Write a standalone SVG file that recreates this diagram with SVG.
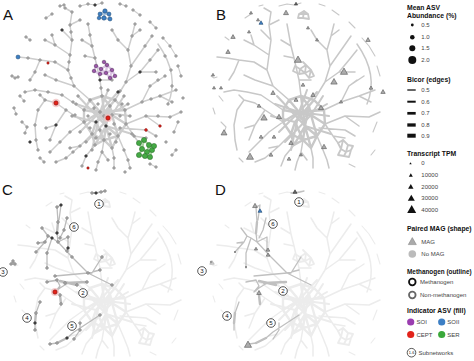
<svg xmlns="http://www.w3.org/2000/svg" xmlns:xlink="http://www.w3.org/1999/xlink" width="474" height="361" viewBox="0 0 474 361">
<style>
text{font-family:"Liberation Sans",Arial,sans-serif}
.pl{font-size:15px;fill:#111}
.lt{font-size:6.8px;font-weight:bold;fill:#111}
.ll{font-size:6px;fill:#444}
.n{fill:#b8b8b8;stroke:#666;stroke-width:0.45}
.m{fill:#555;stroke:#111;stroke-width:0.5}
.r{fill:#e2231a;stroke:#7a1010;stroke-width:0.5}
.h{fill:#f3c2c2;opacity:0.8}
.p{fill:#9b55a8;stroke:#4a2a55;stroke-width:0.5}
.g{fill:#44a944;stroke:#2a6a2a;stroke-width:0.5}
.b{fill:#3d7fc4;stroke:#234a70;stroke-width:0.5}
.t{fill:#acacac;stroke:#555}
.td{fill:#666;stroke:#333}
.tb{fill:#3d7fc4;stroke:#234a70}
.sn{fill:#bdbdbd;stroke:#555;stroke-width:0.5}
.lab circle{fill:#fff;stroke:#111;stroke-width:0.7}
.lab text{font-size:6.2px;fill:#111;text-anchor:middle}
</style>
<defs>
<path id="tri" d="M0,-1.1L1,0.65L-1,0.65Z" stroke-width="0.6" vector-effect="non-scaling-stroke"/>
<g id="net" fill="none" stroke-linecap="round" stroke-linejoin="round">
<path stroke-width="2.4" d="M90,100L102,96L115,100L125,110L126,124L118,136L104,140L92,134L84,122L84,110Z M90,100L100,112L112,115L126,124 M102,96L106,126L104,140 M115,100L96,122L92,134 M125,110L100,112L84,122 M84,110L112,115L118,136 M110,106L96,122 M110,106L106,126 M100,112L106,126L118,136 M96,122L104,140 M112,115L110,106L102,96 M92,134L95,145L104,140L112,148L118,136 M95,145L106,126L112,148"/>
<path stroke-width="2" d="M76,104L100,112L130,116 M80,132L100,112L118,92 M92,150L100,112L108,90 M72,116L96,122L128,104 M78,96L106,126L132,134 M86,142L112,115L124,96"/>
<path stroke-width="1.5" d="M90,100L74,86L68,70L70,55L72,40L70,25L72,12 M70,55L55,45L45,40 M72,40L62,30 M68,70L55,62L40,60L28,58L18,57 M40,60L35,72L30,80 M74,86L56,80L45,75 M72,12L65,8 M70,25L80,20 M55,45L52,35 M102,96L100,80L95,58L92,46L90,35L88,24 M92,46L82,40 M95,58L85,56 M100,80L112,80 M115,100L126,82L131,66L128,50L132,36L135,24 M126,82L140,72L150,60L158,50 M131,66L145,46L152,36 M128,50L118,40L112,30 M140,72L156,72 M132,36L140,30 M125,110L142,102L160,96L176,90 M142,102L150,86L165,76 M126,124L146,116L170,117L181,112 M146,116L160,126 M160,96L172,102 M150,86L158,80 M126,124L134,136L139,143 M118,136L124,150L128,160L130,168 M120,128L146,130L156,136 M134,136L146,138 M104,140L102,152L98,162L96,170 M92,134L80,146L66,158L56,162 M95,145L86,156L82,166 M112,148L114,158L114,168 M102,152L108,160 M80,146L70,148 M84,122L66,110L56,103L45,100L38,110L35,125L36,140L38,150 M84,110L62,95L48,92L35,90L25,92 M66,110L56,125L50,140 M84,122L70,132L60,142L50,152 M45,100L40,95 M56,125L46,128 M158,44Q180,75 168,104"/>
<path stroke-width="1.1" d="M80,6L88,4L95,5L102,3 M133,10L140,15 M150,22L156,28 M163,38L170,46L176,56 M178,66L181,76 M178,122L174,132 M26,37L30,40 M12,76L15,78L18,77 M20,96L24,101 M22,122L27,127L25,133 M46,18L52,14 M150,164L156,167 M176,150L172,155 M40,158L44,162 M14,108L16,114 M120,4L126,6 M60,6L64,5"/>
<path stroke-width="1.8" d="M96,66L101,69L107,65L112,70L115,76L110,78L106,73L100,74L94,71Z M101,69L106,73L112,70 M104,62L107,65 M100,74L101,69 M107,65L106,73 M110,78L112,70 M139,143L144,140L149,145L154,146L152,150L150,157L145,156L139,155L142,149Z M142,149L147,152L149,145 M147,152L152,150 M144,140L142,149 M145,156L147,152 M100,14L105,11L109,14L110,19L104,18L99,18Z M105,11L104,18 M100,14L109,14"/>
</g>
<g id="sublines" fill="none" stroke-linecap="round" stroke-linejoin="round">
<path stroke-width="1.3" d="M92,193L96,193L101,192L105,191 M61,205L57,207L58,222 M57,233L58,242 M61,205L59,220 M67,218L64,230L60,238 M42,228L48,236L52,238L58,242 M48,236L45,242L38,243 M45,242L36,252 M58,242L68,237L68,248L67,251 M52,238L47,253L47,268 M58,242L72,257L88,273L112,285 M102,257L92,273L88,273 M47,282L57,280 M55,276L88,273 M88,273L100,270 M57,280L60,286L55,292L60,288L68,283 M11,264L13,261L15,264Z M40,302L36,313 M35,323L35,330 M100,315L74,332L67,338 M57,343L50,344 M80,323L80,330L74,339"/>
<path stroke-width="2.4" d="M65,283L87,282 M60,281L77,285 M60,295L61,304 M36,313L35,323 M67,338L57,343 M58,222L57,233"/>
</g>
</defs>

<g id="panel-letters">
<text class="pl" x="3" y="20">A</text>
<text class="pl" x="216" y="20">B</text>
<text class="pl" x="2" y="195">C</text>
<text class="pl" x="215" y="195">D</text>
</g>

<!-- Panel A -->
<g id="panelA">
<g id="connectors-A"><use xlink:href="#net" href="#net" stroke="#cdcdcd"/>
<path fill="none" stroke="#dcc3e6" stroke-width="2" stroke-linejoin="round" d="M96,66L101,69L107,65L112,70L115,76L110,78L106,73L100,74L94,71Z M101,69L106,73L112,70 M104,62L107,65 M100,74L101,69 M107,65L106,73 M110,78L112,70"/>
<path fill="none" stroke="#a9d6a2" stroke-width="2" stroke-linejoin="round" d="M139,143L144,140L149,145L154,146L152,150L150,157L145,156L139,155L142,149Z M142,149L147,152L149,145 M147,152L152,150 M144,140L142,149 M145,156L147,152"/>
<path fill="none" stroke="#a8c4e0" stroke-width="1.6" d="M100,14L105,11L109,14L110,19L104,18L99,18Z M105,11L104,18 M100,14L109,14"/>
</g>
<g id="nodes-A">
<g class="n">
<circle cx="90" cy="100" r="1.3"/><circle cx="102" cy="96" r="1.3"/><circle cx="115" cy="100" r="1.3"/><circle cx="125" cy="110" r="1.3"/><circle cx="126" cy="124" r="1.3"/><circle cx="118" cy="136" r="1.3"/><circle cx="104" cy="140" r="1.3"/><circle cx="92" cy="134" r="1.3"/><circle cx="84" cy="122" r="1.3"/><circle cx="84" cy="110" r="1.3"/><circle cx="100" cy="112" r="1.3"/><circle cx="112" cy="115" r="1.3"/><circle cx="110" cy="106" r="1.3"/><circle cx="95" cy="145" r="1.3"/><circle cx="112" cy="148" r="1.3"/><circle cx="120" cy="128" r="1.3"/>
<circle cx="76" cy="104" r="1.3"/><circle cx="130" cy="116" r="1.3"/><circle cx="80" cy="132" r="1.3"/><circle cx="92" cy="150" r="1.3"/><circle cx="108" cy="90" r="1.3"/><circle cx="72" cy="116" r="1.3"/><circle cx="128" cy="104" r="1.3"/><circle cx="78" cy="96" r="1.3"/><circle cx="132" cy="134" r="1.3"/><circle cx="86" cy="142" r="1.3"/><circle cx="124" cy="96" r="1.3"/>
<circle cx="94" cy="108" r="1.3"/><circle cx="100" cy="130" r="1.3"/><circle cx="114" cy="124" r="1.3"/><circle cx="88" cy="116" r="1.3"/><circle cx="120" cy="116" r="1.3"/><circle cx="98" cy="104" r="1.3"/><circle cx="110" cy="134" r="1.3"/><circle cx="90" cy="128" r="1.3"/><circle cx="104" cy="116" r="1.3"/><circle cx="96" cy="138" r="1.3"/><circle cx="116" cy="142" r="1.3"/><circle cx="122" cy="104" r="1.3"/>
<circle cx="74" cy="86" r="1.3"/><circle cx="68" cy="70" r="1.3"/><circle cx="70" cy="55" r="1.3"/><circle cx="72" cy="40" r="1.3"/><circle cx="70" cy="25" r="1.3"/><circle cx="72" cy="12" r="1.3"/><circle cx="55" cy="45" r="1.3"/><circle cx="45" cy="40" r="1.3"/><circle cx="55" cy="62" r="1.3"/><circle cx="40" cy="60" r="1.3"/><circle cx="28" cy="58" r="1.3"/><circle cx="35" cy="72" r="1.3"/><circle cx="30" cy="80" r="1.3"/><circle cx="56" cy="80" r="1.3"/><circle cx="45" cy="75" r="1.3"/><circle cx="65" cy="8" r="1.3"/><circle cx="80" cy="20" r="1.3"/><circle cx="52" cy="35" r="1.3"/><circle cx="71" cy="78" r="1.3"/><circle cx="69" cy="62" r="1.3"/><circle cx="71" cy="32" r="1.3"/>
<circle cx="95" cy="58" r="1.3"/><circle cx="92" cy="46" r="1.3"/><circle cx="90" cy="35" r="1.3"/><circle cx="88" cy="24" r="1.3"/><circle cx="82" cy="40" r="1.3"/><circle cx="85" cy="56" r="1.3"/><circle cx="112" cy="80" r="1.3"/><circle cx="101" cy="88" r="1.3"/>
<circle cx="126" cy="82" r="1.3"/><circle cx="131" cy="66" r="1.3"/><circle cx="128" cy="50" r="1.3"/><circle cx="132" cy="36" r="1.3"/><circle cx="135" cy="24" r="1.3"/><circle cx="150" cy="60" r="1.3"/><circle cx="158" cy="50" r="1.3"/><circle cx="145" cy="46" r="1.3"/><circle cx="152" cy="36" r="1.3"/><circle cx="118" cy="40" r="1.3"/><circle cx="112" cy="30" r="1.3"/><circle cx="156" cy="72" r="1.3"/><circle cx="140" cy="30" r="1.3"/><circle cx="120" cy="91" r="1.3"/>
<circle cx="142" cy="102" r="1.3"/><circle cx="160" cy="96" r="1.3"/><circle cx="176" cy="90" r="1.3"/><circle cx="150" cy="86" r="1.3"/><circle cx="165" cy="76" r="1.3"/><circle cx="146" cy="116" r="1.3"/><circle cx="170" cy="117" r="1.3"/><circle cx="181" cy="112" r="1.3"/><circle cx="172" cy="102" r="1.3"/><circle cx="158" cy="80" r="1.3"/><circle cx="165" cy="56" r="1.3"/><circle cx="171" cy="70" r="1.3"/><circle cx="172" cy="86" r="1.3"/><circle cx="168" cy="104" r="1.3"/><circle cx="151" cy="99" r="1.3"/><circle cx="158" cy="116" r="1.3"/>
<circle cx="134" cy="136" r="1.3"/><circle cx="124" cy="150" r="1.3"/><circle cx="128" cy="160" r="1.3"/><circle cx="130" cy="168" r="1.3"/><circle cx="156" cy="136" r="1.3"/><circle cx="146" cy="138" r="1.3"/>
<circle cx="102" cy="152" r="1.3"/><circle cx="98" cy="162" r="1.3"/><circle cx="96" cy="170" r="1.3"/><circle cx="80" cy="146" r="1.3"/><circle cx="66" cy="158" r="1.3"/><circle cx="56" cy="162" r="1.3"/><circle cx="82" cy="166" r="1.3"/><circle cx="114" cy="158" r="1.3"/><circle cx="114" cy="168" r="1.3"/><circle cx="108" cy="160" r="1.3"/><circle cx="70" cy="148" r="1.3"/><circle cx="73" cy="152" r="1.3"/>
<circle cx="66" cy="110" r="1.3"/><circle cx="45" cy="100" r="1.3"/><circle cx="38" cy="110" r="1.3"/><circle cx="35" cy="125" r="1.3"/><circle cx="36" cy="140" r="1.3"/><circle cx="38" cy="150" r="1.3"/><circle cx="62" cy="95" r="1.3"/><circle cx="48" cy="92" r="1.3"/><circle cx="35" cy="90" r="1.3"/><circle cx="25" cy="92" r="1.3"/><circle cx="50" cy="140" r="1.3"/><circle cx="70" cy="132" r="1.3"/><circle cx="60" cy="142" r="1.3"/><circle cx="50" cy="152" r="1.3"/><circle cx="40" cy="95" r="1.3"/><circle cx="46" cy="128" r="1.3"/><circle cx="75" cy="115" r="1.3"/><circle cx="73" cy="102" r="1.3"/>
<circle cx="80" cy="6" r="1.3"/><circle cx="88" cy="4" r="1.3"/><circle cx="102" cy="3" r="1.3"/><circle cx="133" cy="10" r="1.3"/><circle cx="140" cy="15" r="1.3"/><circle cx="150" cy="22" r="1.3"/><circle cx="156" cy="28" r="1.3"/><circle cx="163" cy="38" r="1.3"/><circle cx="170" cy="46" r="1.3"/><circle cx="176" cy="56" r="1.3"/><circle cx="178" cy="66" r="1.3"/><circle cx="181" cy="76" r="1.3"/><circle cx="178" cy="122" r="1.3"/><circle cx="174" cy="132" r="1.3"/><circle cx="26" cy="37" r="1.3"/><circle cx="30" cy="40" r="1.3"/><circle cx="12" cy="76" r="1.3"/><circle cx="15" cy="78" r="1.3"/><circle cx="18" cy="77" r="1.3"/><circle cx="20" cy="96" r="1.3"/><circle cx="24" cy="101" r="1.3"/><circle cx="22" cy="122" r="1.3"/><circle cx="27" cy="127" r="1.3"/><circle cx="25" cy="133" r="1.3"/><circle cx="46" cy="18" r="1.3"/><circle cx="52" cy="14" r="1.3"/><circle cx="150" cy="164" r="1.3"/><circle cx="156" cy="167" r="1.3"/><circle cx="176" cy="150" r="1.3"/><circle cx="172" cy="155" r="1.3"/><circle cx="40" cy="158" r="1.3"/><circle cx="44" cy="162" r="1.3"/><circle cx="14" cy="108" r="1.3"/><circle cx="16" cy="114" r="1.3"/><circle cx="120" cy="4" r="1.3"/><circle cx="126" cy="6" r="1.3"/><circle cx="60" cy="6" r="1.3"/><circle cx="64" cy="5" r="1.3"/><circle cx="183" cy="98" r="1.3"/><circle cx="166" cy="142" r="1.3"/><circle cx="125" cy="172" r="1.3"/>
</g>
<g class="m">
<circle cx="95" cy="5" r="1.3"/><circle cx="62" cy="30" r="1.3"/><circle cx="100" cy="80" r="1.3"/><circle cx="118" cy="92" r="1.3"/><circle cx="96" cy="122" r="1.3"/><circle cx="86" cy="156" r="1.3"/><circle cx="30" cy="142" r="1.3"/><circle cx="106" cy="126" r="1.3"/><circle cx="140" cy="72" r="1.3"/><circle cx="56" cy="125" r="1.3"/>
</g>
<circle class="h" cx="56" cy="103" r="4.2"/><circle class="h" cx="108" cy="118" r="4"/>
<g class="r">
<circle cx="56" cy="103" r="2.2"/><circle cx="108" cy="118" r="2.2"/><circle cx="48" cy="63" r="1.2"/><circle cx="146" cy="130" r="1.4"/><circle cx="160" cy="126" r="1.3"/><circle cx="88" cy="168" r="1.2"/>
</g>
<g class="p">
<circle cx="96" cy="66" r="1.8"/><circle cx="101" cy="69" r="1.8"/><circle cx="107" cy="65" r="1.8"/><circle cx="112" cy="70" r="1.8"/><circle cx="106" cy="73" r="1.8"/><circle cx="100" cy="74" r="1.8"/><circle cx="115" cy="76" r="1.8"/><circle cx="110" cy="78" r="1.8"/><circle cx="94" cy="71" r="1.8"/><circle cx="104" cy="62" r="1.8"/>
</g>
<g class="g">
<circle cx="139" cy="143" r="2.6"/><circle cx="144" cy="140" r="2.6"/><circle cx="149" cy="145" r="2.6"/><circle cx="142" cy="149" r="2.6"/><circle cx="147" cy="152" r="2.6"/><circle cx="152" cy="150" r="2.6"/><circle cx="145" cy="156" r="2.6"/><circle cx="139" cy="155" r="2.6"/><circle cx="154" cy="146" r="2.6"/><circle cx="150" cy="157" r="2.6"/>
</g>
<g class="b">
<circle cx="100" cy="14" r="2"/><circle cx="105" cy="11" r="2.2"/><circle cx="109" cy="14" r="2"/><circle cx="104" cy="18" r="2.2"/><circle cx="110" cy="19" r="2"/><circle cx="99" cy="18" r="1.8"/><circle cx="18" cy="57" r="2"/>
</g>
</g>
</g>

<!-- Panel B -->
<g id="panelB" transform="translate(199,0)">
<g id="connectors-B"><use xlink:href="#net" href="#net" stroke="#c8c8c8"/></g>
<g id="tri-B" class="t">
<use href="#tri" class="td" transform="translate(97,4) scale(1.6)"/>
<use href="#tri" transform="translate(87,13) scale(2.5)"/>
<use href="#tri" transform="translate(52,13) scale(1.5)"/>
<use href="#tri" transform="translate(59,20) scale(1.5)"/>
<use href="#tri" class="tb" transform="translate(62,23) scale(2)"/>
<use href="#tri" transform="translate(50,32) scale(1.5)"/>
<use href="#tri" transform="translate(34,37) scale(2.2)"/>
<use href="#tri" transform="translate(29,52) scale(2.2)"/>
<use href="#tri" transform="translate(109,28) scale(1.5)"/>
<use href="#tri" transform="translate(99,60) scale(3.6)"/>
<use href="#tri" transform="translate(145,72) scale(3.6)"/>
<use href="#tri" transform="translate(135,82) scale(3.2)"/>
<use href="#tri" transform="translate(169,40) scale(2.2)"/>
<use href="#tri" transform="translate(172,88) scale(1.8)"/>
<use href="#tri" transform="translate(184,92) scale(2.2)"/>
<use href="#tri" transform="translate(14,75) scale(1.5)"/>
<use href="#tri" transform="translate(15,88) scale(1.5)"/>
<use href="#tri" transform="translate(22,88) scale(1.5)"/>
<use href="#tri" transform="translate(25,133) scale(3)"/>
<use href="#tri" transform="translate(65,118) scale(3.2)"/>
<use href="#tri" transform="translate(80,117) scale(2.5)"/>
<use href="#tri" transform="translate(74,93) scale(2.2)"/>
<use href="#tri" transform="translate(60,106) scale(1.8)"/>
<use href="#tri" transform="translate(97,100) scale(2)"/>
<use href="#tri" transform="translate(114,95) scale(2.2)"/>
<use href="#tri" transform="translate(122,108) scale(2.5)"/>
<use href="#tri" transform="translate(104,85) scale(1.8)"/>
<use href="#tri" transform="translate(92,143) scale(2.2)"/>
<use href="#tri" transform="translate(125,147) scale(2.5)"/>
<use href="#tri" transform="translate(51,157) scale(3.5)"/>
<use href="#tri" transform="translate(72,155) scale(1.8)"/>
<use href="#tri" transform="translate(90,159) scale(1.8)"/>
<use href="#tri" transform="translate(102,155) scale(1.5)"/>
<use href="#tri" transform="translate(62,137) scale(1.8)"/>
<use href="#tri" transform="translate(75,137) scale(1.8)"/>
<use href="#tri" transform="translate(118,40) scale(1.5)"/>
<use href="#tri" transform="translate(142,102) scale(1.6)"/>
</g>
</g>

<!-- Panel C -->
<g id="panelC">
<g id="connectors-C"><use href="#net" stroke="#ececec" transform="translate(0,188)"/>
<use href="#sublines" stroke="#bcbcbc"/></g>
<g id="nodes-C">
<g class="sn">
<circle cx="92" cy="193" r="1.3"/><circle cx="101" cy="192" r="1.3"/><circle cx="105" cy="191" r="1.3"/><circle cx="57" cy="207" r="1.3"/><circle cx="58" cy="222" r="1.3"/><circle cx="67" cy="218" r="1.3"/><circle cx="64" cy="230" r="1.3"/><circle cx="42" cy="228" r="1.3"/><circle cx="48" cy="236" r="1.3"/><circle cx="58" cy="242" r="1.3"/><circle cx="45" cy="242" r="1.3"/><circle cx="38" cy="243" r="1.3"/><circle cx="36" cy="252" r="1.3"/><circle cx="68" cy="237" r="1.3"/><circle cx="67" cy="251" r="1.3"/><circle cx="47" cy="253" r="1.3"/><circle cx="47" cy="268" r="1.3"/><circle cx="72" cy="257" r="1.3"/><circle cx="88" cy="273" r="1.3"/><circle cx="102" cy="257" r="1.3"/><circle cx="112" cy="285" r="1.3"/><circle cx="60" cy="238" r="1.3"/><circle cx="47" cy="282" r="1.3"/><circle cx="55" cy="276" r="1.3"/><circle cx="57" cy="280" r="1.3"/><circle cx="65" cy="283" r="1.3"/><circle cx="77" cy="285" r="1.3"/><circle cx="87" cy="282" r="1.3"/><circle cx="61" cy="304" r="1.3"/><circle cx="60" cy="295" r="1.3"/><circle cx="100" cy="270" r="1.3"/><circle cx="13" cy="261" r="1.3"/><circle cx="11" cy="264" r="1.3"/><circle cx="15" cy="264" r="1.3"/><circle cx="40" cy="302" r="1.3"/><circle cx="36" cy="313" r="1.3"/><circle cx="35" cy="330" r="1.3"/><circle cx="100" cy="315" r="1.3"/><circle cx="57" cy="343" r="1.3"/><circle cx="50" cy="344" r="1.3"/><circle cx="80" cy="323" r="1.3"/><circle cx="80" cy="330" r="1.3"/><circle cx="74" cy="339" r="1.3"/>
</g>
<g class="m">
<circle cx="96" cy="193" r="1.3"/><circle cx="61" cy="205" r="1.3"/><circle cx="57" cy="233" r="1.3"/><circle cx="52" cy="238" r="1.3"/><circle cx="68" cy="248" r="1.3"/><circle cx="35" cy="323" r="1.3"/><circle cx="67" cy="338" r="1.3"/>
</g>
<circle class="h" cx="55" cy="292" r="4"/><circle class="r" cx="55" cy="292" r="2.2"/>
</g>
<g id="labels-C" class="lab">
<circle cx="99" cy="204" r="4.3"/><text x="99" y="206.2">1</text>
<circle cx="83" cy="293" r="4.3"/><text x="83" y="295.2">2</text>
<circle cx="3" cy="272" r="4.3"/><text x="3" y="274.2">3</text>
<circle cx="27" cy="318" r="4.3"/><text x="27" y="320.2">4</text>
<circle cx="72" cy="326" r="4.3"/><text x="72" y="328.2">5</text>
<circle cx="74" cy="227" r="4.3"/><text x="74" y="229.2">6</text>
</g>
</g>

<!-- Panel D -->
<g id="panelD">
<g id="connectors-D"><use href="#net" stroke="#ececec" transform="translate(199,188)"/>
<use href="#sublines" stroke="#c0c0c0" transform="translate(199,0)"/></g>
<g id="tri-D" class="t">
<use href="#tri" class="td" transform="translate(295,192) scale(2)"/>
<use href="#tri" transform="translate(255,206) scale(2.4)"/>
<use href="#tri" class="tb" transform="translate(260,211) scale(2)"/>
<use href="#tri" transform="translate(256,249) scale(1.6)"/>
<use href="#tri" transform="translate(268,250) scale(1.8)"/>
<use href="#tri" transform="translate(268,255) scale(1.8)"/>
<use href="#tri" transform="translate(259,293) scale(2.3)"/>
<use href="#tri" transform="translate(248,345) scale(3.6)"/>
</g>
<g fill="#777"><circle cx="235" cy="252" r="1"/><circle cx="246" cy="267" r="1"/><circle cx="211" cy="262" r="1.2" fill="#999"/></g>
<g id="labels-D" class="lab">
<circle cx="299" cy="202" r="4.3"/><text x="299" y="204.2">1</text>
<circle cx="283" cy="291" r="4.3"/><text x="283" y="293.2">2</text>
<circle cx="202" cy="271" r="4.3"/><text x="202" y="273.2">3</text>
<circle cx="227" cy="316" r="4.3"/><text x="227" y="318.2">4</text>
<circle cx="271" cy="323" r="4.3"/><text x="271" y="325.2">5</text>
<circle cx="273" cy="224" r="4.3"/><text x="273" y="226.2">6</text>
</g>
</g>

<!-- Legend -->
<g id="legend">
<text class="lt" x="407" y="9.5">Mean ASV</text>
<text class="lt" x="407" y="17.5">Abundance (%)</text>
<g fill="#111"><circle cx="412.3" cy="25" r="1.4"/><circle cx="412.3" cy="37.3" r="2.3"/><circle cx="412.3" cy="48.3" r="3"/><circle cx="412.3" cy="60" r="4"/></g>
<text class="ll" x="421.3" y="27">0.5</text><text class="ll" x="421.3" y="39.3">1.0</text><text class="ll" x="421.3" y="50.3">1.5</text><text class="ll" x="421.3" y="62">2.0</text>
<text class="lt" x="407" y="81.7">Bicor (edges)</text>
<g stroke="#111"><line x1="407.3" y1="90" x2="415.7" y2="90" stroke-width="1.3"/><line x1="407.3" y1="101.7" x2="415.7" y2="101.7" stroke-width="2"/><line x1="407.3" y1="113.3" x2="415.7" y2="113.3" stroke-width="2.7"/><line x1="407.3" y1="125" x2="415.7" y2="125" stroke-width="3.3"/><line x1="407.3" y1="135.7" x2="415.7" y2="135.7" stroke-width="4"/></g>
<text class="ll" x="421.3" y="92">0.5</text><text class="ll" x="421.3" y="103.7">0.6</text><text class="ll" x="421.3" y="115.3">0.7</text><text class="ll" x="421.3" y="127">0.8</text><text class="ll" x="421.3" y="137.7">0.9</text>
<text class="lt" x="407" y="155.7">Transcript TPM</text>
<g fill="#111"><use href="#tri" transform="translate(410.5,163.5) scale(1.2)"/><use href="#tri" transform="translate(410.8,175.5) scale(2)"/><use href="#tri" transform="translate(410.8,187) scale(2.7)"/><use href="#tri" transform="translate(411.3,198.5) scale(3.5)"/><use href="#tri" transform="translate(411.7,210) scale(4.5)"/></g>
<text class="ll" x="421.3" y="165.3">0</text><text class="ll" x="421.3" y="177.3">10000</text><text class="ll" x="421.3" y="188.7">20000</text><text class="ll" x="421.3" y="200.3">30000</text><text class="ll" x="421.3" y="212">40000</text>
<text class="lt" x="407" y="231">Paired MAG (shape)</text>
<use href="#tri" fill="#aaa" stroke="#888" transform="translate(412.3,242) scale(4)"/>
<text class="ll" x="421.3" y="244">MAG</text>
<circle cx="412.3" cy="254" r="3.8" fill="#bbb"/>
<text class="ll" x="421.3" y="256">No MAG</text>
<text class="lt" x="407" y="274.3" style="font-size:6.4px">Methanogen (outline)</text>
<circle cx="412.3" cy="282" r="3.3" fill="#fff" stroke="#111" stroke-width="1.8"/>
<text class="ll" x="420" y="284">Methanogen</text>
<circle cx="412.3" cy="295" r="3.3" fill="#fff" stroke="#666" stroke-width="1.8"/>
<text class="ll" x="420" y="297">Non-methanogen</text>
<text class="lt" x="407" y="313.3">Indicator ASV (fill)</text>
<circle cx="410.7" cy="322" r="3.6" fill="#9b3db0"/><text class="ll" x="416.5" y="324">SOI</text>
<circle cx="441.7" cy="322" r="3.6" fill="#3d7fc4"/><text class="ll" x="447.3" y="324">SOII</text>
<circle cx="410.7" cy="334.5" r="3.6" fill="#e2231a"/><text class="ll" x="416.5" y="336.5">CEPT</text>
<circle cx="441.7" cy="334.5" r="3.6" fill="#3aa83a"/><text class="ll" x="447.3" y="336.5">SER</text>
<circle cx="411.5" cy="352.7" r="4.3" fill="#fff" stroke="#111" stroke-width="0.7"/>
<text x="411.5" y="354.1" style="font-size:3.8px;text-anchor:middle;fill:#111">1-6</text>
<text class="ll" x="418.5" y="354.7">Subnetworks</text>
</g>
</svg>
